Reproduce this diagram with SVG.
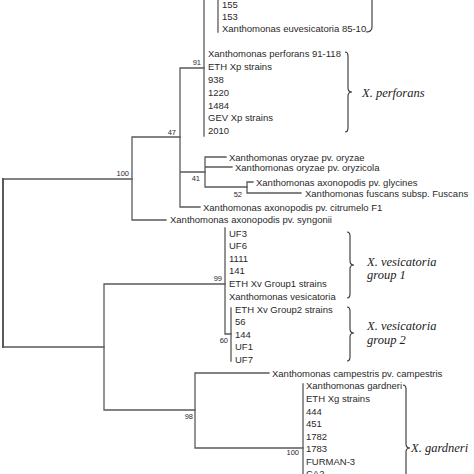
<svg xmlns="http://www.w3.org/2000/svg" width="474" height="474" viewBox="0 0 474 474">
<style>
.br{fill:none;stroke:#5a5a5a;stroke-width:1.3;stroke-linecap:square}
.root{stroke-width:2}
.lb{font-family:"Liberation Sans",Arial,sans-serif;font-size:9.5px;fill:#2a2a2a}
.bs{font-family:"Liberation Sans",Arial,sans-serif;font-size:7.5px;fill:#2a2a2a;text-anchor:end}
.sp{font-family:"Liberation Serif","Times New Roman",serif;font-style:italic;font-size:12.5px;fill:#222}
.brace{fill:none;stroke:#333;stroke-width:1.1}
</style>
<rect width="474" height="474" fill="#fff"/>
<g id="connectors">
<path class="br root" d="M3,179 V347"/>
<path class="br" d="M3,179 H132 M3,347 H104"/>
<path class="br" d="M132,137 V220 M132,137 H180 M132,220 H166"/>
<path class="br" d="M180,68 V207 M180,68 H204 M180,172 H205 M180,207 H200"/>
<path class="br" d="M204,-5 V136"/>
<path class="br" d="M218,-5 V32"/>
<path class="br" d="M205,157 V187 M205,157 H226 M205,167 H232 M205,187 H247"/>
<path class="br" d="M247,182 V193 M247,182 H253 M247,193 H301"/>
<path class="br" d="M104,284 V410 M104,284 H225 M104,410 H195"/>
<path class="br" d="M225,228 V334 M225,334 H231"/>
<path class="br" d="M231,308 V361"/>
<path class="br" d="M195,373 V448 M195,373 H269 M195,448 H303"/>
<path class="br" d="M303,384 V480"/>
</g>
<g id="bootstrap">
<text class="bs" x="201" y="65">91</text>
<text class="bs" x="176" y="135">47</text>
<text class="bs" x="129" y="176">100</text>
<text class="bs" x="200" y="181">41</text>
<text class="bs" x="242" y="197">52</text>
<text class="bs" x="222" y="281">99</text>
<text class="bs" x="228" y="343">60</text>
<text class="bs" x="193" y="419">98</text>
<text class="bs" x="299" y="455">100</text>
</g>
<g id="clade-euvesicatoria">
<text class="lb" x="222" y="7.5">155</text>
<text class="lb" x="222" y="19.5">153</text>
<text class="lb" x="222" y="32">Xanthomonas euvesicatoria 85-10</text>
<path class="brace" d="M372,-12 V27 Q372,32 366,32"/>
</g>
<g id="clade-perforans">
<text class="lb" x="208" y="56.5">Xanthomonas perforans 91-118</text>
<text class="lb" x="208" y="70">ETH Xp strains</text>
<text class="lb" x="208" y="83">938</text>
<text class="lb" x="208" y="95.5">1220</text>
<text class="lb" x="208" y="108.5">1484</text>
<text class="lb" x="208" y="121">GEV Xp strains</text>
<text class="lb" x="208" y="133.5">2010</text>
<path class="brace" d="M345,52 Q348,52 348,56 V88 Q348,92 352,92 Q348,92 348,96 V128 Q348,132 345,132"/>
<text class="sp" x="362" y="97">X. perforans</text>
</g>
<g id="leaf-oryzae"><text class="lb" x="229" y="160.5">Xanthomonas oryzae pv. oryzae</text></g>
<g id="leaf-oryzicola"><text class="lb" x="235" y="171">Xanthomonas oryzae pv. oryzicola</text></g>
<g id="leaf-glycines"><text class="lb" x="256" y="185.5">Xanthomonas axonopodis pv. glycines</text></g>
<g id="leaf-fuscans"><text class="lb" x="305" y="196.5">Xanthomonas fuscans subsp. Fuscans</text></g>
<g id="leaf-citrumelo"><text class="lb" x="203" y="210.5">Xanthomonas axonopodis pv. citrumelo F1</text></g>
<g id="leaf-syngonii"><text class="lb" x="170" y="222.5">Xanthomonas axonopodis pv. syngonii</text></g>
<g id="clade-vesicatoria-1">
<text class="lb" x="229" y="236.5">UF3</text>
<text class="lb" x="229" y="248.5">UF6</text>
<text class="lb" x="229" y="261.5">1111</text>
<text class="lb" x="229" y="273.5">141</text>
<text class="lb" x="229" y="286.5">ETH Xv Group1 strains</text>
<text class="lb" x="229" y="299.5">Xanthomonas vesicatoria</text>
<path class="brace" d="M347,232 Q350,232 350,236 V261 Q350,265 354,265 Q350,265 350,269 V294 Q350,298 347,298"/>
<text class="sp" x="367" y="266">X. vesicatoria</text>
<text class="sp" x="367" y="279">group 1</text>
</g>
<g id="clade-vesicatoria-2">
<text class="lb" x="235" y="312.5">ETH Xv Group2 strains</text>
<text class="lb" x="235" y="324.5">56</text>
<text class="lb" x="235" y="337.5">144</text>
<text class="lb" x="235" y="349.5">UF1</text>
<text class="lb" x="235" y="362.5">UF7</text>
<path class="brace" d="M347,307 Q350,307 350,311 V329 Q350,333 354,333 Q350,333 350,337 V357 Q350,361 347,361"/>
<text class="sp" x="367" y="330">X. vesicatoria</text>
<text class="sp" x="367" y="344">group 2</text>
</g>
<g id="leaf-campestris"><text class="lb" x="272" y="376.5">Xanthomonas campestris pv. campestris</text></g>
<g id="clade-gardneri">
<text class="lb" x="306" y="388.5">Xanthomonas gardneri</text>
<text class="lb" x="306" y="401.5">ETH Xg strains</text>
<text class="lb" x="306" y="414.5">444</text>
<text class="lb" x="306" y="426.5">451</text>
<text class="lb" x="306" y="439.5">1782</text>
<text class="lb" x="306" y="451.5">1783</text>
<text class="lb" x="306" y="464.5">FURMAN-3</text>
<text class="lb" x="306" y="477">CA2</text>
<path class="brace" d="M403,385 Q406,385 406,389 V444 Q406,448 410,448 Q406,448 406,452 V507 Q406,511 403,511"/>
<text class="sp" x="411" y="452">X. gardneri</text>
</g>
</svg>
